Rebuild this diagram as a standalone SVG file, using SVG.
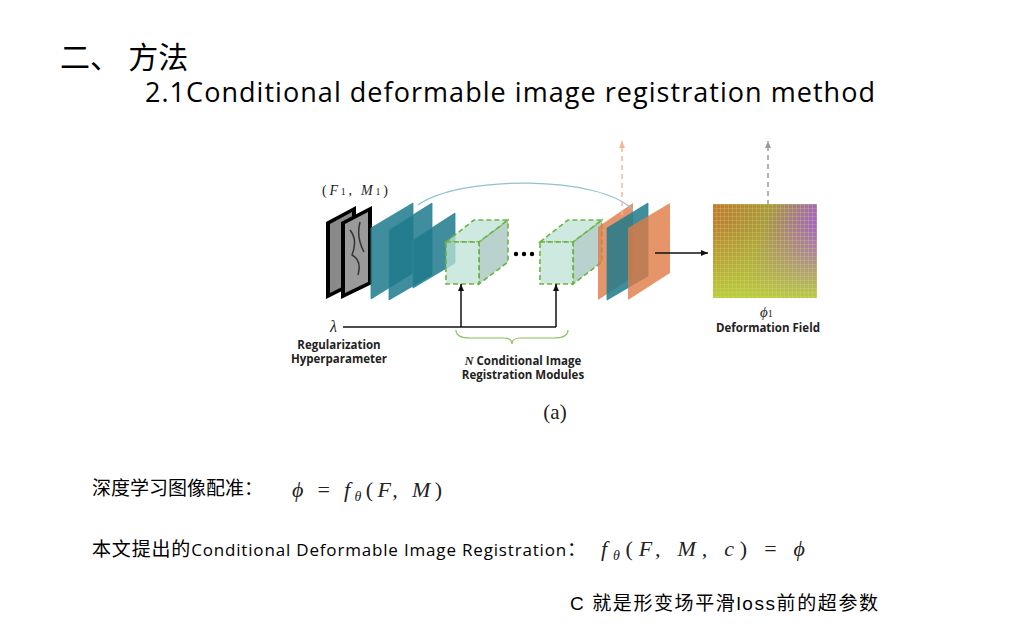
<svg xmlns="http://www.w3.org/2000/svg" width="1016" height="629" viewBox="0 0 1016 629">
<style>
.cjk{font-family:"Liberation Sans","Noto Sans CJK SC",sans-serif;fill:#000}
.lbl{font-family:"Open Sans","DejaVu Sans",sans-serif;font-weight:bold;font-size:11.5px;fill:#222;text-anchor:middle}
.math{font-family:"Liberation Serif",serif;fill:#222}
.teal{fill:#1f7a8c;fill-opacity:.85;stroke:#2a8a9c;stroke-width:.8}
.orange{fill:#e07a45;fill-opacity:.8}
.cube{fill:#bde3d5;fill-opacity:.75;stroke:#6db33f;stroke-width:1.6;stroke-dasharray:5,3}
.cubeside{fill:#a9c7c0;fill-opacity:.8;stroke:#6db33f;stroke-width:1.6;stroke-dasharray:5,3}
</style>
<defs>
<marker id="ah" markerWidth="8" markerHeight="8" refX="7" refY="4" orient="auto" markerUnits="userSpaceOnUse"><path d="M0,1 L7,4 L0,7 z" fill="#111"/></marker>
<marker id="ahg" markerWidth="8" markerHeight="8" refX="7" refY="4" orient="auto" markerUnits="userSpaceOnUse"><path d="M0,1 L7,4 L0,7 z" fill="#999"/></marker>
<marker id="aho" markerWidth="8" markerHeight="8" refX="7" refY="4" orient="auto" markerUnits="userSpaceOnUse"><path d="M0,1 L7,4 L0,7 z" fill="#f4b898"/></marker>
<linearGradient id="gA" x1="0" y1="0" x2="1" y2="0.3"><stop offset="0" stop-color="#c07a30"/><stop offset=".5" stop-color="#a89a40"/><stop offset="1" stop-color="#a060d0"/></linearGradient>
<linearGradient id="gB" x1="0" y1="0" x2="0" y2="1"><stop offset="0.2" stop-color="#c0c040" stop-opacity="0"/><stop offset="1" stop-color="#b8d040" stop-opacity=".95"/></linearGradient>
<pattern id="grid" width="4" height="4" patternUnits="userSpaceOnUse"><path d="M0,0 H4 M0,0 V4" stroke="#e8e070" stroke-width=".6" fill="none" opacity=".8"/></pattern>
</defs>
<rect width="1016" height="629" fill="#fff"/>
<text class="cjk" x="60" y="68" font-size="30">二、 方法</text>
<text x="145" y="102" font-size="27" textLength="730" font-family="Open Sans,DejaVu Sans,sans-serif" fill="#000">2.1Conditional deformable image registration method</text>

<g id="input">
<text class="math" x="322" y="195" font-size="14" textLength="66">(<tspan font-style="italic">F</tspan><tspan font-size="10">1</tspan>, <tspan font-style="italic">M</tspan><tspan font-size="10">1</tspan>)</text>
<polygon points="326,222 356,206 356,284 326,299" fill="#000"/>
<polygon points="330,224 352,212 352,282 330,293" fill="#8a8a8a"/>
<polygon points="341,222 372,206 372,284 341,299" fill="#000"/>
<polygon points="345,224 368,212 368,282 345,293" fill="#9a9a9a"/>
<path d="M350,230 q8,10 2,25 q10,5 6,20 M360,222 q-4,15 4,30" stroke="#333" fill="none" stroke-width="1.5"/>
</g>
<g id="encoder">
<polygon class="teal" points="371,228 413,203 413,273 371,299"/>
<polygon class="teal" points="389,230 432,203 432,275 389,300"/>
<polygon class="teal" points="413,240 455,213 455,263 413,288"/>
</g>
<g id="module1">
<polygon class="cubeside" points="479,242 508,220 508,262 479,284"/>
<polygon class="cube" points="446,242 474,220 508,220 479,242"/>
<rect class="cube" x="446" y="242" width="33" height="42"/>
</g>
<g id="dots"><circle cx="516" cy="254" r="2.2"/><circle cx="524" cy="254" r="2.2"/><circle cx="532" cy="254" r="2.2"/></g>
<g id="module2">
<polygon class="cubeside" points="573,242 602,220 602,262 573,284"/>
<polygon class="cube" points="540,242 568,220 602,220 573,242"/>
<rect class="cube" x="540" y="242" width="33" height="42"/>
</g>
<g id="decoder">
<polygon class="orange" points="598,227 633,203 633,277 598,300"/>
<polygon class="teal" points="607,228 648,203 648,276 607,300"/>
<polygon class="orange" points="628,228 670,203 670,273 628,300"/>
</g>
<g id="field">
<rect x="713" y="204" width="104" height="94" fill="url(#gA)"/>
<rect x="713" y="204" width="104" height="94" fill="url(#gB)"/>
<rect x="713" y="204" width="104" height="94" fill="url(#grid)"/>
<text class="math" x="760" y="317" font-size="15" font-style="italic">ϕ<tspan font-size="10" font-style="normal">1</tspan></text>
<text class="lbl" x="768" y="332">Deformation Field</text>
</g>
<g id="lambda">
<text class="math" x="330" y="332" font-size="16" font-style="italic">λ</text>
<text class="lbl" x="339" y="349">Regularization</text>
<text class="lbl" x="339" y="363">Hyperparameter</text>
</g>
<g id="modulesLabel">
<path d="M456,330 q0,8 14,8 h34 q8,0 8,6 q0,-6 8,-6 h34 q14,0 14,-8" fill="none" stroke="#8cc05a" stroke-width="1.2"/>
<text class="lbl" x="523" y="365"><tspan font-family="Liberation Serif,serif" font-style="italic" font-size="12">N</tspan> Conditional Image</text>
<text class="lbl" x="523" y="379">Registration Modules</text>
</g>
<text class="math" x="555" y="419" font-size="21" text-anchor="middle">(a)</text>
<g id="connectors" fill="none">
<path d="M418,205 C460,175 600,175 633,210" stroke="#8fc2cf" stroke-width="1.2"/>
<path d="M343,327 H556" stroke="#111" stroke-width="1.5"/>
<path d="M461,327 V284" stroke="#111" stroke-width="1.5" marker-end="url(#ah)"/>
<path d="M556,327 V284" stroke="#111" stroke-width="1.5" marker-end="url(#ah)"/>
<path d="M655,253 H708" stroke="#111" stroke-width="1.5" marker-end="url(#ah)"/>
<path d="M622,215 V141" stroke="#f4b898" stroke-width="1.5" stroke-dasharray="5,4" marker-end="url(#aho)"/>
<path d="M768,205 V141" stroke="#999" stroke-width="1.5" stroke-dasharray="5,4" marker-end="url(#ahg)"/>
</g>
<text class="cjk" x="92" y="495" font-size="19">深度学习图像配准：</text>
<text class="math" x="292" y="497" font-size="22" font-style="italic" textLength="150">ϕ <tspan font-style="normal">=</tspan> f<tspan font-size="14" dy="4">θ</tspan><tspan dy="-4" font-style="normal">(</tspan>F, M<tspan font-style="normal">)</tspan></text>
<text class="cjk" x="92" y="556" font-size="19" textLength="494">本文提出的<tspan font-family="Open Sans,sans-serif" font-size="17">Conditional Deformable Image Registration</tspan>：</text>
<text class="math" x="601" y="556" font-size="22" font-style="italic" textLength="204">f<tspan font-size="14" dy="4">θ</tspan><tspan dy="-4" font-style="normal">(</tspan>F, M, c<tspan font-style="normal">)  =  </tspan>ϕ</text>
<text class="cjk" x="570" y="610" font-size="19" textLength="308">C 就是形变场平滑loss前的超参数</text>
</svg>
